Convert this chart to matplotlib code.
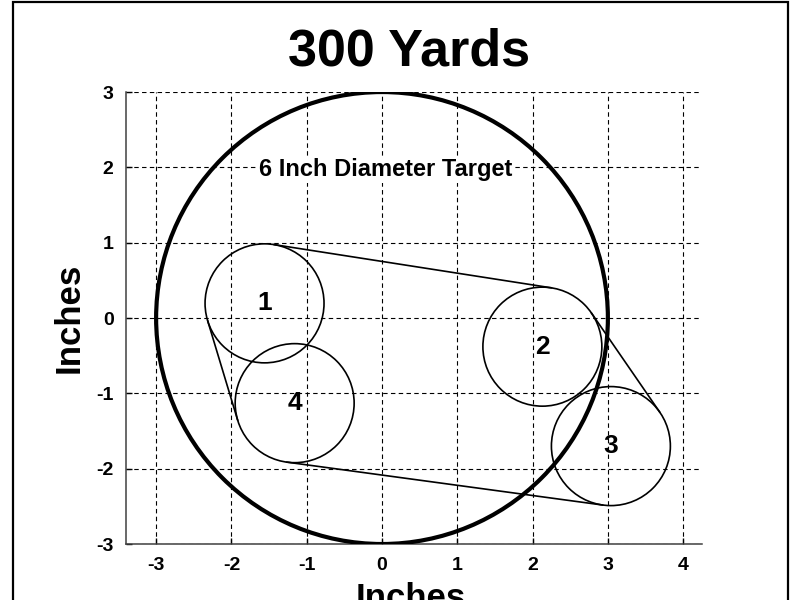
import numpy as np
import matplotlib
matplotlib.use("Agg")
import matplotlib.pyplot as plt
from matplotlib.patches import Circle, Rectangle

# ---- data ----
title = "300 Yards"
x_label = "Inches"
y_label = "Inches"
target_center = (0.0, 0.0)
target_radius = 3.0
target_label = "6 Inch Diameter Target"
target_label_xy = (0.05, 1.97)

shot_labels = ["1", "2", "3", "4"]
shot_x = [-1.56, 2.13, 3.04, -1.16]
shot_y = [0.195, -0.38, -1.70, -1.13]
shot_radius = 0.79
hull_order = [0, 1, 2, 3]

x_ticks = [-3, -2, -1, 0, 1, 2, 3, 4]
y_ticks = [-3, -2, -1, 0, 1, 2, 3]
x_limits = (-3.4, 4.25)
y_limits = (-3.0, 3.0)

# ---- figure ----
plt.rcParams['font.family'] = ['Liberation Sans', 'DejaVu Sans']
plt.rcParams['axes.unicode_minus'] = False
fig = plt.figure(figsize=(8, 6), dpi=100)
ax = fig.add_axes([0.1575, 0.0933, 0.72, 0.7533])
ax.set_xlim(*x_limits)
ax.set_ylim(*y_limits)

ax.grid(True, color='black', linestyle=(0, (4, 3)), linewidth=0.8)
ax.set_axisbelow(True)
for s in ['top', 'right']:
    ax.spines[s].set_visible(False)
for s in ['left', 'bottom']:
    ax.spines[s].set_color('#404040')
    ax.spines[s].set_linewidth(1.1)

ax.set_xticks(x_ticks)
ax.set_yticks(y_ticks)
ax.tick_params(direction='in', length=4, width=1, colors='black',
               labelsize=14, pad=9)
for lab in ax.get_xticklabels() + ax.get_yticklabels():
    lab.set_fontweight('bold')

# target circle
ax.add_patch(Circle(target_center, target_radius, fill=False,
                    edgecolor='black', linewidth=3.0, zorder=4))
ax.text(target_label_xy[0], target_label_xy[1], target_label, ha='center',
        va='center', fontsize=17, fontweight='bold', zorder=5,
        bbox=dict(facecolor='white', edgecolor='none', pad=1.5))

# hull tangent lines between consecutive shots
cx = np.array(shot_x)
cy = np.array(shot_y)
n = len(hull_order)
for k in range(n):
    i = hull_order[k]
    j = hull_order[(k + 1) % n]
    dx, dy = cx[j] - cx[i], cy[j] - cy[i]
    L = np.hypot(dx, dy)
    nx, ny = -dy / L, dx / L
    ax.plot([cx[i] + shot_radius * nx, cx[j] + shot_radius * nx],
            [cy[i] + shot_radius * ny, cy[j] + shot_radius * ny],
            color='black', linewidth=1.2, zorder=3, solid_capstyle='round')

# shot circles
for lbl, x, y in zip(shot_labels, shot_x, shot_y):
    ax.add_patch(Circle((x, y), shot_radius, fill=False, edgecolor='black',
                        linewidth=1.2, zorder=3))
    ax.text(x, y, lbl, ha='center', va='center', fontsize=19,
            fontweight='bold', zorder=5)

# labels and title
ax.set_xlabel(x_label, fontsize=25, fontweight='bold')
ax.xaxis.set_label_coords(0.495, -0.085)
ax.set_ylabel(y_label, fontsize=25, fontweight='bold')
ax.yaxis.set_label_coords(-0.07, 0.5)
fig.text(0.511, 1 - 66 / 600, title, ha='center', va='baseline',
         fontsize=37.5, fontweight='bold')

# outer frame (screenshot border)
fig.patches.append(Rectangle((12.7 / 800, -0.05), (787.7 - 12.7) / 800,
                             1.05 - 1.7 / 600, transform=fig.transFigure,
                             fill=False, edgecolor='black', linewidth=1.6))

fig.savefig("out.png", dpi=100)
